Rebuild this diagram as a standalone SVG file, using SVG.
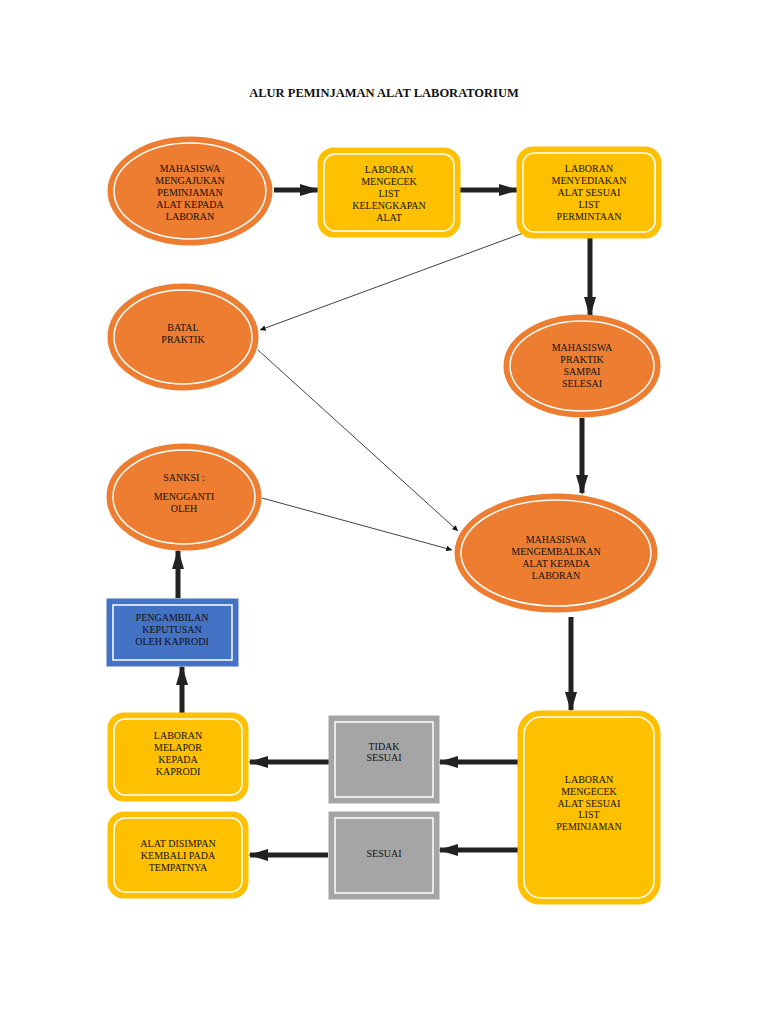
<svg xmlns="http://www.w3.org/2000/svg" width="768" height="1024" viewBox="0 0 768 1024">
<style>
text{font-family:"Liberation Serif",serif;font-size:10px;text-anchor:middle;fill:#111}
.title{font-size:12.5px;font-weight:bold}
.o{fill:#ED7D31;stroke:#ED7D31;stroke-width:5}
.y{fill:#FFC000;stroke:#FFC000;stroke-width:5}
.g{fill:#A5A5A5;stroke:#A5A5A5;stroke-width:5}
.b{fill:#4472C4;stroke:#4472C4;stroke-width:5}
.in{fill:none;stroke:#fff;stroke-width:1.5}
.thick{stroke:#222;stroke-width:5;fill:none;marker-end:url(#big)}
.thin{stroke:#111;stroke-width:0.8;fill:none;marker-end:url(#small)}
</style>
<defs>
<marker id="big" viewBox="0 0 10 10" refX="9" refY="5" markerWidth="4" markerHeight="2.4" orient="auto" markerUnits="strokeWidth" preserveAspectRatio="none"><path d="M0,0 L10,5 L0,10 Z" fill="#222"/></marker>
<marker id="small" viewBox="0 0 10 10" refX="10" refY="5" markerWidth="9" markerHeight="7" orient="auto" markerUnits="strokeWidth"><path d="M0,0 L10,5 L0,10 Z" fill="#111"/></marker>
</defs>
<rect width="768" height="1024" fill="#fff"/>
<text class="title" x="384" y="97">ALUR PEMINJAMAN ALAT LABORATORIUM</text>
<g id="connectors">
<line class="thick" x1="274" y1="190" x2="318" y2="190"/>
<line class="thick" x1="460" y1="190" x2="517" y2="190"/>
<line class="thick" x1="590" y1="238" x2="590" y2="315"/>
<line class="thick" x1="582" y1="418" x2="582" y2="493"/>
<line class="thick" x1="571" y1="617" x2="571" y2="710"/>
<line class="thick" x1="518" y1="762" x2="440" y2="762"/>
<line class="thick" x1="518" y1="850" x2="440" y2="850"/>
<line class="thick" x1="330" y1="762" x2="250" y2="762"/>
<line class="thick" x1="328" y1="855" x2="250" y2="855"/>
<line class="thick" x1="182" y1="714" x2="182" y2="667"/>
<line class="thick" x1="178" y1="598" x2="178" y2="551"/>
<line class="thin" x1="526" y1="232" x2="260" y2="330"/>
<line class="thin" x1="258" y1="350" x2="458" y2="531"/>
<line class="thin" x1="262" y1="498" x2="452" y2="550"/>
</g>
<g id="n1"><ellipse class="o" cx="190" cy="191" rx="80" ry="52"/><ellipse class="in" cx="190" cy="191" rx="76" ry="48"/>
<text x="190" y="172">MAHASISWA</text><text x="190" y="184">MENGAJUKAN</text><text x="190" y="196">PEMINJAMAN</text><text x="190" y="208">ALAT KEPADA</text><text x="190" y="220">LABORAN</text></g>
<g id="n2"><rect class="y" x="320" y="150" width="138" height="85" rx="14"/><rect class="in" x="324" y="154" width="130" height="77" rx="11"/>
<text x="389" y="173">LABORAN</text><text x="389" y="185">MENGECEK</text><text x="389" y="197">LIST</text><text x="389" y="209">KELENGKAPAN</text><text x="389" y="221">ALAT</text></g>
<g id="n3"><rect class="y" x="519" y="149" width="140" height="87" rx="14"/><rect class="in" x="523" y="153" width="132" height="79" rx="11"/>
<text x="589" y="172">LABORAN</text><text x="589" y="184">MENYEDIAKAN</text><text x="589" y="196">ALAT SESUAI</text><text x="589" y="208">LIST</text><text x="589" y="220">PERMINTAAN</text></g>
<g id="n4"><ellipse class="o" cx="183" cy="337" rx="73" ry="51"/><ellipse class="in" cx="183" cy="337" rx="69" ry="47"/>
<text x="183" y="331">BATAL</text><text x="183" y="343">PRAKTIK</text></g>
<g id="n5"><ellipse class="o" cx="582" cy="366" rx="76" ry="49"/><ellipse class="in" cx="582" cy="366" rx="72" ry="45"/>
<text x="582" y="351">MAHASISWA</text><text x="582" y="363">PRAKTIK</text><text x="582" y="375">SAMPAI</text><text x="582" y="387">SELESAI</text></g>
<g id="n6"><ellipse class="o" cx="184" cy="497" rx="75" ry="51"/><ellipse class="in" cx="184" cy="497" rx="71" ry="47"/>
<text x="184" y="481">SANKSI :</text><text x="184" y="500">MENGGANTI</text><text x="184" y="512">OLEH</text></g>
<g id="n7"><ellipse class="o" cx="556" cy="553" rx="99" ry="57"/><ellipse class="in" cx="556" cy="553" rx="95" ry="53"/>
<text x="556" y="543">MAHASISWA</text><text x="556" y="555">MENGEMBALIKAN</text><text x="556" y="567">ALAT KEPADA</text><text x="556" y="579">LABORAN</text></g>
<g id="n8"><rect class="b" x="109" y="601" width="127" height="63"/><rect class="in" x="113" y="605" width="119" height="55"/>
<text x="172" y="621">PENGAMBILAN</text><text x="172" y="633">KEPUTUSAN</text><text x="172" y="645">OLEH KAPRODI</text></g>
<g id="n9"><rect class="y" x="110" y="715" width="136" height="84" rx="14"/><rect class="in" x="114" y="719" width="128" height="76" rx="11"/>
<text x="178" y="739">LABORAN</text><text x="178" y="751">MELAPOR</text><text x="178" y="763">KEPADA</text><text x="178" y="775">KAPRODI</text></g>
<g id="n10"><rect class="g" x="331" y="718" width="106" height="83"/><rect class="in" x="335" y="722" width="98" height="75"/>
<text x="384" y="750">TIDAK</text><text x="384" y="761">SESUAI</text></g>
<g id="n11"><rect class="g" x="331" y="814" width="106" height="83"/><rect class="in" x="335" y="818" width="98" height="75"/>
<text x="384" y="857">SESUAI</text></g>
<g id="n12"><rect class="y" x="110" y="814" width="136" height="82" rx="14"/><rect class="in" x="114" y="818" width="128" height="74" rx="11"/>
<text x="178" y="847">ALAT DISIMPAN</text><text x="178" y="859">KEMBALI PADA</text><text x="178" y="871">TEMPATNYA</text></g>
<g id="n13"><rect class="y" x="520" y="713" width="138" height="189" rx="20"/><rect class="in" x="524" y="717" width="130" height="181" rx="17"/>
<text x="589" y="783">LABORAN</text><text x="589" y="795">MENGECEK</text><text x="589" y="807">ALAT SESUAI</text><text x="589" y="818">LIST</text><text x="589" y="830">PEMINJAMAN</text></g>
</svg>
